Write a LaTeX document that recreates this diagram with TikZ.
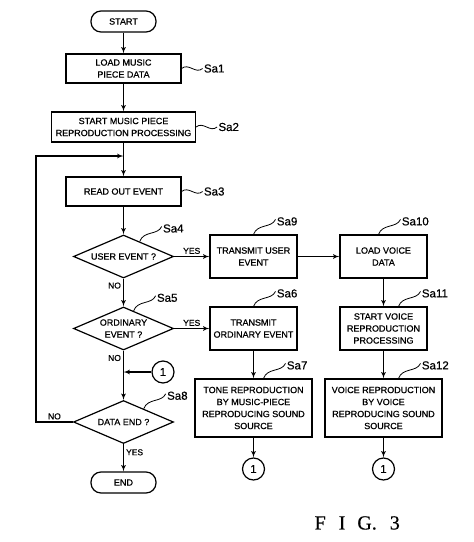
\documentclass[tikz,border=0pt]{standalone}
\usepackage{fontspec}
\setmainfont{Liberation Serif}[FakeBold=0.5]
\setsansfont{Liberation Sans}[FakeBold=0.6]
\usetikzlibrary{arrows, shapes.geometric, calc}

\begin{document}
\begin{tikzpicture}
    [font=\sffamily\fontsize{9}{12}\selectfont, x=1pt, y=-1pt,
     >=latex', line width=1.2pt,
     stepbox/.style={draw, rectangle, align=center, inner sep=0pt,
                     minimum width=87, minimum height=43},
     termbox/.style={draw, rounded corners=10pt, inner sep=0pt,
                     minimum width=65, minimum height=21},
     testbox/.style={draw, diamond, aspect=2.3, align=center, inner sep=0pt,
                     minimum width=100, minimum height=43},
     joint/.style={draw, circle, inner sep=0pt, minimum size=22,
                   font=\sffamily\fontsize{11.5}{11}\selectfont},
     steplabel/.style={anchor=west, inner sep=1pt,
                       font=\sffamily\fontsize{11.5}{12}\selectfont},
     yesno/.style={inner sep=2pt, font=\sffamily\fontsize{8.5}{10}\selectfont},
    ]
    \useasboundingbox (0, 0) rectangle (474, 542);

    % Main column
    \node[termbox] (start) at (123.5, 21.5) {START};
    \node[stepbox, minimum width=115, minimum height=29] (load) at (123.5, 68.5)
        {LOAD MUSIC\\PIECE DATA};
    \node[stepbox, minimum width=144, minimum height=30] (play) at (123.5, 127)
        {START MUSIC PIECE\\REPRODUCTION PROCESSING};
    \node[stepbox, minimum width=115, minimum height=29] (read) at (123.5, 191.5)
        {READ OUT EVENT};
    \node[testbox] (user) at (123.5, 256.5) {USER EVENT ?};
    \node[testbox] (ordin) at (123.5, 328.5) {ORDINARY\\EVENT ?};
    \node[testbox] (dend) at (123.5, 422) {DATA END ?};
    \node[termbox] (end) at (123.5, 482.5) {END};
    \node[joint] (j1) at (163, 372) {1};

    % Event columns
    \node[stepbox] (tuser) at (253.5, 256.5) {TRANSMIT USER\\EVENT};
    \node[stepbox] (tordin) at (253.5, 328.5) {TRANSMIT\\ORDINARY EVENT};
    \node[stepbox, minimum width=117, minimum height=58] (tone) at (253.5, 408)
        {TONE REPRODUCTION\\BY MUSIC-PIECE\\REPRODUCING SOUND\\SOURCE};
    \node[joint] (j2) at (253.5, 469) {1};
    \node[stepbox] (lvoice) at (383.5, 256.5) {LOAD VOICE\\DATA};
    \node[stepbox] (svoice) at (383.5, 328.5) {START VOICE\\REPRODUCTION\\PROCESSING};
    \node[stepbox, minimum width=117, minimum height=58] (voice) at (383.5, 408)
        {VOICE REPRODUCTION\\BY VOICE\\REPRODUCING SOUND\\SOURCE};
    \node[joint] (j3) at (383.5, 469) {1};

    % Flow
    \draw[->] (start) -- (load);
    \draw[->] (load) -- (play);
    \draw[->] (play) -- (read);
    \draw[->] (read) -- (user);
    \draw[->] (user) -- node[yesno, pos=.25, left] {NO} (ordin);
    \draw[->] (ordin) -- node[yesno, pos=.15, left] {NO} (dend);
    \draw[->] (dend) -- node[yesno, pos=.3, right] {YES} (end);
    \draw[->] (user) -- node[yesno, above] {YES} (tuser);
    \draw[->] (ordin) -- node[yesno, above] {YES} (tordin);
    \draw[->] (j1) -- (j1 -| read);
    \draw[->] (tuser) -- (lvoice);
    \draw[->] (lvoice) -- (svoice);
    \draw[->] (svoice) -- (voice);
    \draw[->] (tordin) -- (tone);
    \draw[->] (tone) -- (j2);
    \draw[->] (voice) -- (j3);

    % Return loop
    \coordinate (back) at (36, 156);
    \draw[->] (dend.west) -- node[yesno, above] {NO} (dend.west -| back)
        -- (back) -- (read.north |- back);

    % Step numbers
    \foreach \nd / \lab in {load/Sa1, play/Sa2, read/Sa3} {
        \draw[line width=.8pt] (\nd.east) .. controls +(7,-6) and +(-7,6) .. ++(21,0)
            node[steplabel] {\lab};
    }
    \coordinate (s4) at ($(user.north)!.32!(user.east)$);
    \coordinate (s5) at ($(ordin.north)!.2!(ordin.east)$);
    \coordinate (s8) at ($(dend.north)!.4!(dend.east)$);
    \coordinate (s9) at (tuser.north);
    \coordinate (s6) at (tordin.north);
    \coordinate (s10) at ([xshift=-5pt]lvoice.north);
    \coordinate (s11) at ([xshift=15pt]svoice.north);
    \coordinate (s7) at ([xshift=10pt]tone.north);
    \coordinate (s12) at ([xshift=15pt]voice.north);
    \foreach \pt / \lab in {s4/Sa4, s5/Sa5, s8/Sa8, s9/Sa9, s6/Sa6,
                            s10/Sa10, s11/Sa11, s7/Sa7, s12/Sa12} {
        \draw[line width=.8pt] (\pt) .. controls +(4,-11) and +(-4,9) .. ++(22,-15)
            node[steplabel, yshift=-2pt] {\lab};
    }

    % Caption
    \node[anchor=west, inner sep=0pt, font=\rmfamily\fontsize{20}{20}\selectfont]
        (fig) at (314, 523) {F\hspace{13pt}I\hspace{12pt}G.\hspace{13pt}3};
\end{tikzpicture}
\end{document}
